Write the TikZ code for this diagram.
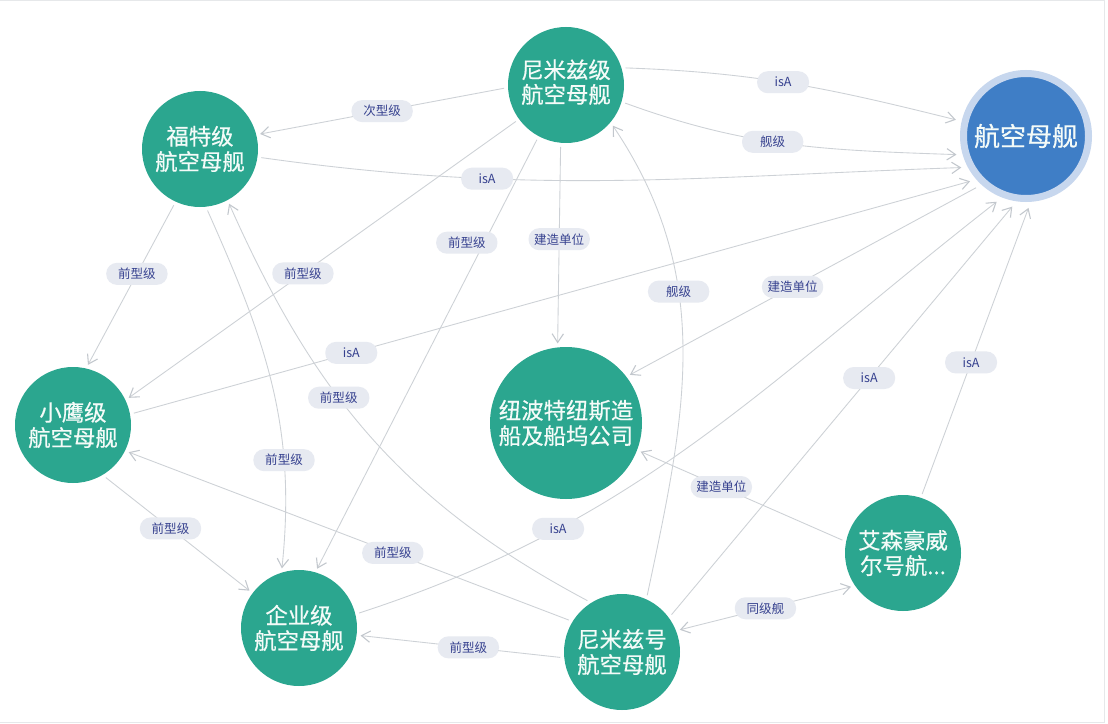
\documentclass[tikz,border=0pt]{standalone}
\usepackage{fontspec}
\setmainfont{Noto Sans CJK SC}
\newfontfamily\nodefont{Noto Sans CJK SC}[FakeBold=0.5]
\usetikzlibrary{arrows.meta}
\definecolor{tealc}{HTML}{2BA68F}
\definecolor{bluec}{HTML}{3F7EC6}
\definecolor{haloc}{HTML}{C7D7EE}
\definecolor{edgec}{HTML}{CDD1D6}
\definecolor{tipc}{HTML}{C2C7CD}
\definecolor{lblfill}{HTML}{E7EAF1}
\definecolor{lbltext}{HTML}{36418F}
\definecolor{framec}{HTML}{E6E8EA}
\definecolor{nodetext}{HTML}{F4FBF8}
\pgfdeclarelayer{bg}
\pgfsetlayers{bg,main}
\begin{document}
\begin{tikzpicture}[x=0.75pt,y=-0.75pt,
  ent/.style={circle,fill=tealc,text=nodetext,minimum size=87pt,inner sep=0pt,
    outer sep=3pt,align=center,font=\nodefont\fontsize{16.8pt}{19pt}\selectfont},
  bigent/.style={ent,minimum size=114pt},
  hub/.style={circle,fill=bluec,draw=haloc,line width=5.25pt,text=nodetext,
    minimum size=93.75pt,inner sep=0pt,outer sep=7.1pt,
    font=\nodefont\fontsize{19.5pt}{22pt}\selectfont},
  lbl/.style={fill=lblfill,text=lbltext,rounded corners=8pt,minimum height=16.5pt,
    minimum width=46pt,inner xsep=4pt,inner ysep=0pt,
    font=\fontsize{9.4pt}{11pt}\selectfont},
  lblA/.style={lbl,minimum width=39pt},
  tip/.tip={Straight Barb[length=6.5pt,width=8.5pt,line width=0.8pt,color=tipc]},
  lnk/.style={draw=edgec,line width=0.65pt,-tip},
]
\useasboundingbox (0,0) rectangle (1108,724);

% nodes
\node[ent] (NC) at (566,85) {\raisebox{6pt}{\begin{tabular}{@{}c@{}}尼米兹级\\[-1.5pt]航空母舰\end{tabular}}};
\node[hub] (CV) at (1026,136) {航空母舰};
\node[ent] (FD) at (200,149) {福特级\\航空母舰};
\node[ent] (XY) at (73,425) {小鹰级\\航空母舰};
\node[bigent] (NB) at (566,423) {纽波特纽斯造\\船及船坞公司};
\node[ent] (QY) at (299,628) {企业级\\航空母舰};
\node[ent] (NN) at (622,652) {尼米兹号\\航空母舰};
\node[ent] (EH) at (903,553) {艾森豪威\\尔号航...};

\begin{pgfonlayer}{bg}
\fill[white] (0,0) rectangle (1108,724);
\draw[framec,line width=0.75pt] (0,1) -- (1104,1) -- (1104,722) -- (0,722);
\draw[lnk] (NC.183) -- node[lbl]{次型级} (FD.14);
\draw[lnk] (NC.16) to[out=-2,in=166] node[lblA,pos=0.47]{isA} (CV.167);
\draw[lnk] (NC.343) to[out=-20,in=178] node[lbl,pos=0.45]{舰级} (CV.195);
\draw[lnk] (FD.352) to[out=-8,in=182] node[lblA,pos=0.31]{isA} (CV.206);
\draw[lnk] (FD.245) -- node[lbl,pos=0.43]{前型级} (XY.76);
\draw[lnk] (NC.216) -- node[lbl,pos=0.55]{前型级} (XY.26);
\draw[lnk] (XY.11) -- node[lblA,pos=0.26]{isA} (CV.219);
\draw[lnk] (NC.242) -- node[lbl,pos=0.24,xshift=-13pt]{前型级} (QY.73);
\draw[lnk] (NC.265) -- node[lbl,pos=0.47]{建造单位} (NB.96);
\draw[lnk] (NN.66) to[out=78,in=304] node[lbl,pos=0.63]{舰级} (NC.319);
\draw[lnk] (NN.124) to[out=152,in=294] node[lbl,pos=0.6]{前型级} (FD.298);
\draw[lnk] (FD.277) to[out=-66,in=84] node[lbl,pos=0.72]{前型级} (QY.106);
\draw[lnk] (XY.302) -- node[lbl,pos=0.45]{前型级} (QY.143);
\draw[lnk] (NN.149) -- node[lbl,pos=0.4]{前型级} (XY.334);
\draw[lnk] (QY.14) to[out=18,in=218] node[lblA,pos=0.27]{isA} (CV.246);
\draw[lnk] (NN.37) -- node[lblA,pos=0.58]{isA} (CV.259);
\draw[lnk] (EH.72) -- node[lblA,pos=0.46]{isA} (CV.272);
\draw[lnk] (EH.168) -- node[lbl,pos=0.6]{建造单位} (NB.339);
\draw[lnk] (CV.226) -- node[lbl,pos=0.53]{建造单位} (NB.37);
\draw[lnk] (NN.185) -- node[lbl,pos=0.46]{前型级} (QY.353);
\draw[lnk,tip-tip] (NN.21) -- node[lbl]{同级舰} (EH.213);
\end{pgfonlayer}
\end{tikzpicture}
\end{document}
